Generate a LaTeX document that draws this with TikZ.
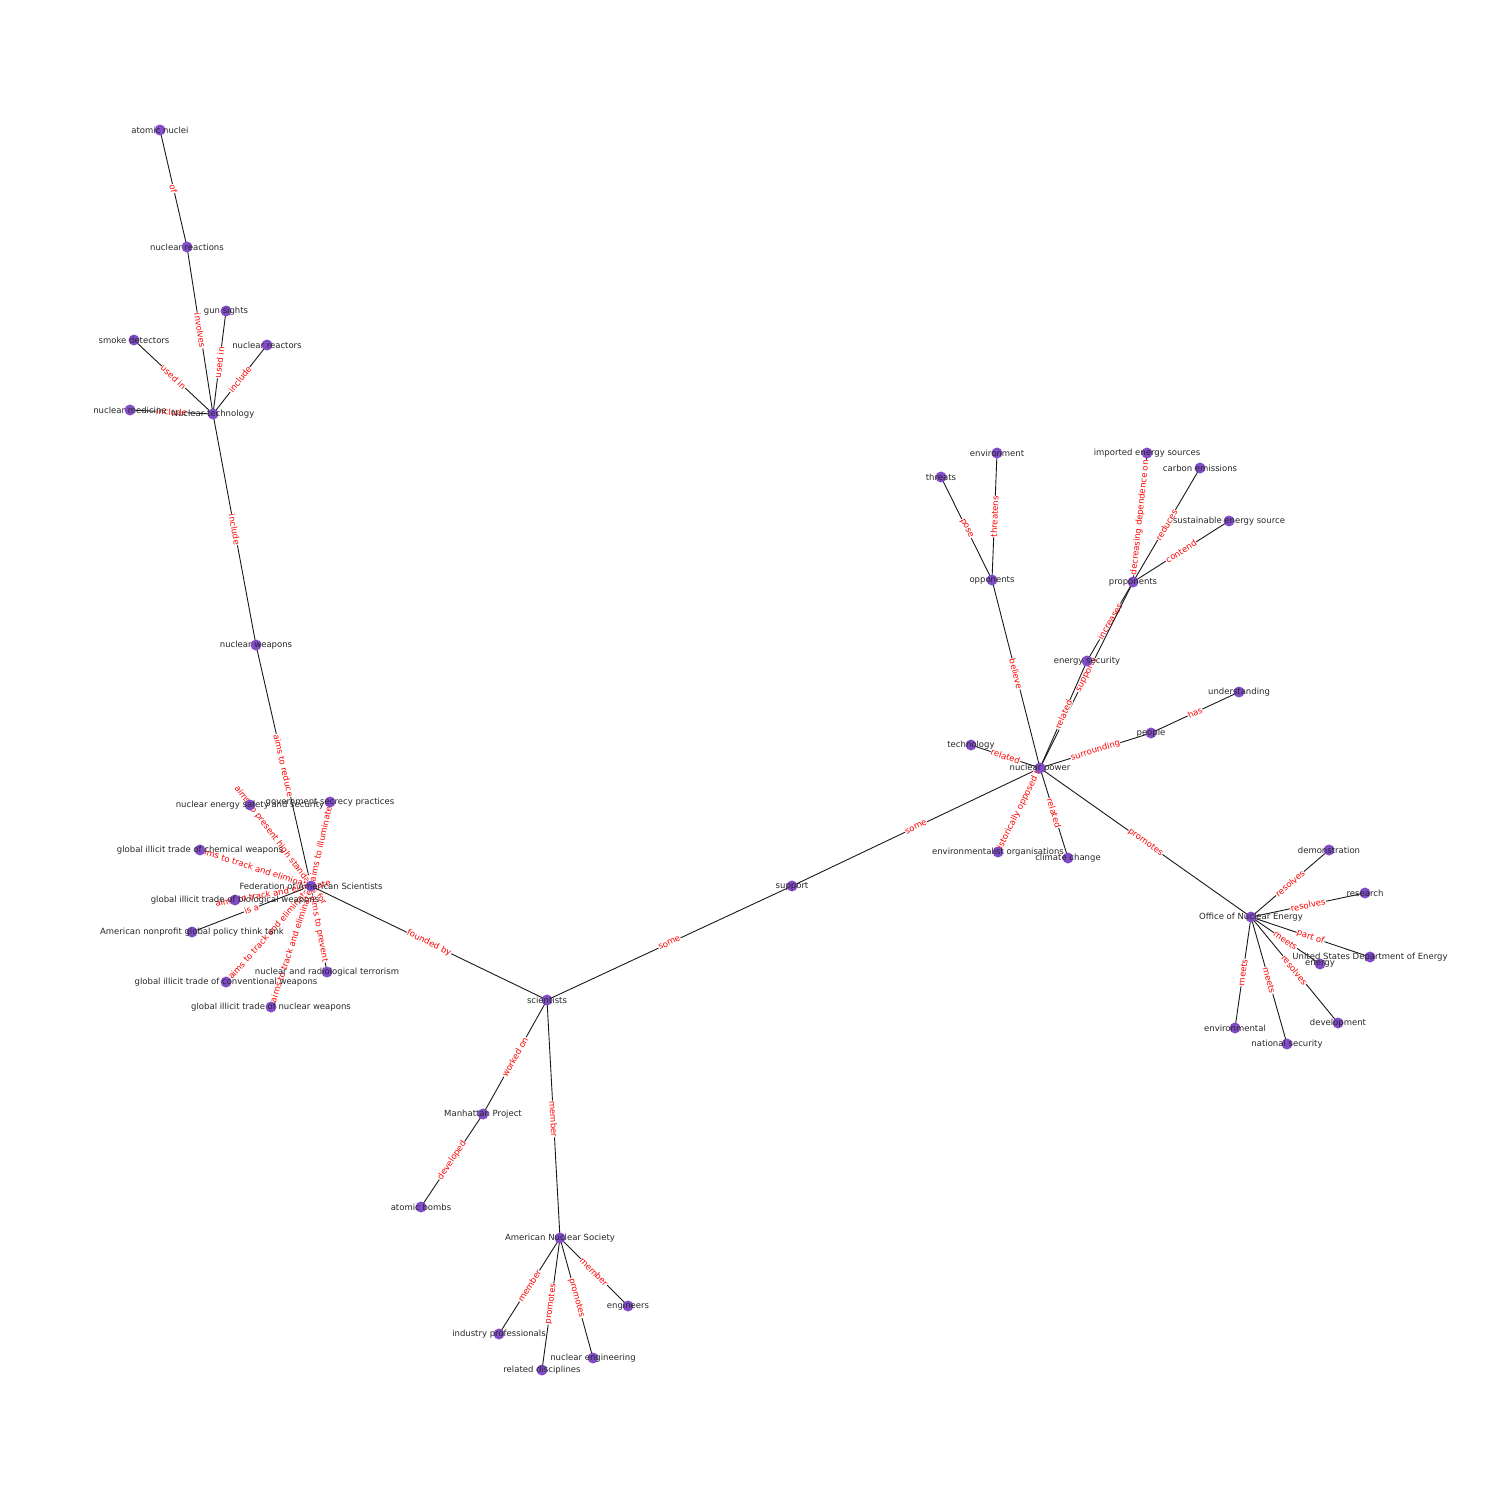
\documentclass[tikz,border=0pt]{standalone}
\usepackage{fontspec}
\setmainfont{DejaVu Sans}
\begin{document}
\begin{tikzpicture}[x=1pt,y=-1pt,
 dot/.style={circle,fill=violet!60!blue!70,minimum size=11pt,inner sep=0pt},
 lab/.style={font=\fontsize{8.5}{8.5}\selectfont,text=black!85},
 el/.style={font=\fontsize{8.5}{8.5}\selectfont,text=red,sloped,midway,fill=white,inner sep=0.5pt}]
\useasboundingbox (0,0) rectangle (1500,1500);
\foreach \n/\x/\y/\t in {
an/160/130/atomic nuclei, nr/187/247/nuclear reactions, gs/226/311/gun sights,
sd/134/340/smoke detectors, nre/267/345/nuclear reactors, nm/130/410/nuclear medicine,
nt/213/414/Nuclear technology, nw/256/645/nuclear weapons,
ness/250/805/nuclear energy safety and security, gsp/330/802/government secrecy practices,
cw/200/850/global illicit trade of chemical weapons, fas/311/886/Federation of American Scientists,
bw/235/900/global illicit trade of biological weapons, anp/192/932/American nonprofit global policy think tank,
nrt/327/972/nuclear and radiological terrorism, cvw/226/982/global illicit trade of conventional weapons,
nwt/271/1007/global illicit trade of nuclear weapons, sc/547/1000/scientists,
mp/483/1114/Manhattan Project, ab/421/1207/atomic bombs, ans/560/1238/American Nuclear Society,
ip/499/1334/industry professionals, rd/542/1370/related disciplines, ne/593/1358/nuclear engineering,
eng/628/1306/engineers, sup/792/886/support, np/1040/768/nuclear power,
tech/971/745/technology, opp/992/580/opponents, thr/941/477/threats, env/997/453/environment,
pro/1133/582/proponents, ies/1147/453/imported energy sources, ce/1200/468/carbon emissions,
ses/1229/521/sustainable energy source, es/1087/661/energy security, und/1239/692/understanding,
ppl/1151/733/people, eo/998/852/environmentalist organisations, cc/1068/858/climate change,
one/1251/917/Office of Nuclear Energy, dem/1329/850/demonstration, res/1365/893/research,
doe/1370/957/United States Department of Energy, ener/1320/964/energy, dev/1338/1023/development,
ns/1287/1044/national security, envl/1235/1028/environmental}
 \coordinate (\n) at (\x,\y);
\foreach \a/\b/\l in {an/nr/of, nr/nt/involves, gs/nt/used in, sd/nt/used in, nre/nt/include,
 nm/nt/include, nt/nw/include, nw/fas/aims to reduce, ness/fas/aims to present high standards for,
 gsp/fas/aims to illuminate, cw/fas/aims to track and eliminate, bw/fas/aims to track and eliminate,
 anp/fas/is a, nrt/fas/aims to prevent, cvw/fas/aims to track and eliminate,
 nwt/fas/aims to track and eliminate, fas/sc/founded by, sc/sup/some, sc/mp/worked on,
 mp/ab/developed, sc/ans/member, ans/ip/member, ans/rd/promotes, ans/ne/promotes, ans/eng/member,
 sup/np/some, tech/np/related, opp/np/believe, thr/opp/pose, env/opp/threatens,
 ies/pro/decreasing dependence on, ce/pro/reduces, ses/pro/contend, es/pro/increases,
 pro/np/supports, np/es/related, np/ppl/surrounding, ppl/und/has, eo/np/historically opposed to,
 np/cc/related, np/one/promotes, one/dem/resolves, one/res/resolves, one/doe/part of,
 one/ener/meets, one/dev/resolves, one/ns/meets, one/envl/meets}
 \draw[black!90,line width=0.9pt] (\a) -- node[el]{\l} (\b);
\foreach \n/\x/\y/\t in {
an/160/130/atomic nuclei, nr/187/247/nuclear reactions, gs/226/311/gun sights,
sd/134/340/smoke detectors, nre/267/345/nuclear reactors, nm/130/410/nuclear medicine,
nt/213/414/Nuclear technology, nw/256/645/nuclear weapons,
ness/250/805/nuclear energy safety and security, gsp/330/802/government secrecy practices,
cw/200/850/global illicit trade of chemical weapons, fas/311/886/Federation of American Scientists,
bw/235/900/global illicit trade of biological weapons, anp/192/932/American nonprofit global policy think tank,
nrt/327/972/nuclear and radiological terrorism, cvw/226/982/global illicit trade of conventional weapons,
nwt/271/1007/global illicit trade of nuclear weapons, sc/547/1000/scientists,
mp/483/1114/Manhattan Project, ab/421/1207/atomic bombs, ans/560/1238/American Nuclear Society,
ip/499/1334/industry professionals, rd/542/1370/related disciplines, ne/593/1358/nuclear engineering,
eng/628/1306/engineers, sup/792/886/support, np/1040/768/nuclear power,
tech/971/745/technology, opp/992/580/opponents, thr/941/477/threats, env/997/453/environment,
pro/1133/582/proponents, ies/1147/453/imported energy sources, ce/1200/468/carbon emissions,
ses/1229/521/sustainable energy source, es/1087/661/energy security, und/1239/692/understanding,
ppl/1151/733/people, eo/998/852/environmentalist organisations, cc/1068/858/climate change,
one/1251/917/Office of Nuclear Energy, dem/1329/850/demonstration, res/1365/893/research,
doe/1370/957/United States Department of Energy, ener/1320/964/energy, dev/1338/1023/development,
ns/1287/1044/national security, envl/1235/1028/environmental}
 {\node[dot] (d\n) at (\n) {}; \node[lab] (t\n) at (\n) {\t};}
\end{tikzpicture}
\end{document}
